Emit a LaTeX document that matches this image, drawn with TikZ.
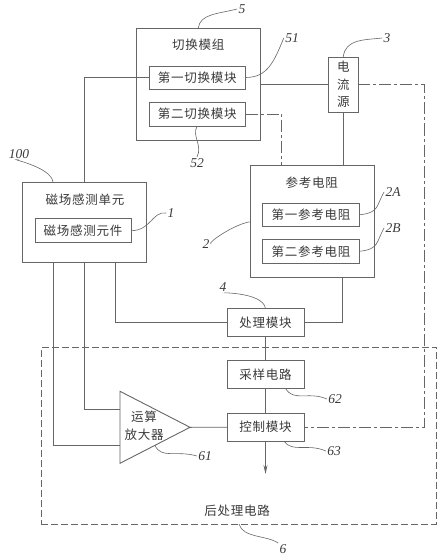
\documentclass[tikz,border=0pt]{standalone}
\usepackage{xcolor}
\usepackage{fontspec}
\setmainfont[LetterSpace=6]{Noto Sans CJK SC}
\newfontfamily\numfont{Liberation Serif}
\usetikzlibrary{shapes.geometric,arrows.meta}
\definecolor{linegray}{HTML}{666666}
\definecolor{textgray}{HTML}{3A3A3A}

\begin{document}
\begin{tikzpicture}[x=1pt,y=-1pt,
    line width=0.9pt, draw=linegray,
    block/.style={draw=linegray, inner sep=0pt, outer sep=0pt, text=textgray, font=\fontsize{12.5}{17.5}\selectfont},
    title/.style={inner sep=0pt, text=textgray, font=\fontsize{12.5}{18}\selectfont, align=center},
    numtag/.style={inner sep=1pt, text=textgray, font=\fontsize{13.5}{14}\numfont\itshape},
    wire/.style={draw=linegray},
    dotwire/.style={draw=linegray, dash pattern=on 12pt off 3pt on 3pt off 3pt},
    leader/.style={draw=linegray, line width=0.6pt}]
    \useasboundingbox (0,0) rectangle (446,559);

    % Switch group
    \node[block, minimum width=123.5pt, minimum height=112pt] (group) at (198.25,84) {};
    \node[title] (grouptitle) at (198.2,44.7) {切换模组};
    \node[block, minimum width=96.5pt, minimum height=23pt] (swa) at (197.25,77.5) {第一切换模块};
    \node[block, minimum width=96.5pt, minimum height=24pt] (swb) at (197.25,114) {第二切换模块};

    % Current source
    \node[block, align=center, minimum width=29.5pt, minimum height=55pt] (source) at (343.25,84.5) {电\\流\\源};

    % Sensing unit
    \node[block, minimum width=124pt, minimum height=80pt] (unit) at (84,222) {};
    \node[title] (unittitle) at (85,199.3) {磁场感测单元};
    \node[block, minimum width=96pt, minimum height=24pt] (sensor) at (83,230.7) {磁场感测元件};

    % Reference resistors
    \node[block, minimum width=123.3pt, minimum height=112pt] (refres) at (312.35,221.7) {};
    \node[title] (reftitle) at (311.7,182.7) {参考电阻};
    \node[block, minimum width=96.6pt, minimum height=23.7pt] (refa) at (311,214.8) {第一参考电阻};
    \node[block, minimum width=96.6pt, minimum height=24pt] (refb) at (311,251.3) {第二参考电阻};

    % Processing chain
    \node[block, minimum width=77pt, minimum height=27.3pt] (proc) at (265.5,322.3) {处理模块};
    \node[block, minimum width=77pt, minimum height=27.6pt] (sample) at (265.5,374.5) {采样电路};
    \node[block, minimum width=77pt, minimum height=27.7pt] (ctrl) at (265.5,427.2) {控制模块};

    % Amplifier
    \node[draw=linegray, isosceles triangle, isosceles triangle stretches, inner sep=0pt, outer sep=0pt,
        minimum width=72pt, minimum height=70pt, anchor=west] (amp) at (120,427.3) {};
    \node[title] (amptitle) at (144,426) {运算\\放大器};

    % Post-processing frame
    \node[draw=linegray, dash pattern=on 7pt off 3pt, minimum width=395.4pt, minimum height=176.7pt,
        inner sep=0pt, outer sep=0pt] (post) at (239,435.7) {};
    \node[title] (posttitle) at (237,511) {后处理电路};

    % Wires
    \coordinate (busturn) at (424,427.2);
    \coordinate (ctrlout) at (265.5,474);
    \draw[wire] (swa.west) -| (unit.north);
    \draw[wire] (source.west) -- (source.west -| group.east);
    \draw[wire] (source.south) -- (source.south |- refres.north);
    \draw[wire] ([xshift=31pt]unit.south) |- (proc.west);
    \draw[wire] (unit.south) |- ([yshift=18pt]amp.west);
    \draw[wire] ([xshift=-31pt]unit.south) |- ([yshift=-18pt]amp.west);
    \draw[wire] ([xshift=30.4pt]refres.south) |- (proc.east);
    \draw[wire] (proc.south) -- (sample.north);
    \draw[wire] (sample.south) -- (ctrl.north);
    \draw[wire] (amp.apex) -- (ctrl.west);
    \draw[wire, -{Stealth[length=9pt,width=4pt]}] (ctrl.south) -- (ctrlout);
    \draw[dotwire] (swb.east) -| ([xshift=-30.6pt]refres.north);
    \draw[dotwire] (source.east) -| (busturn) -- (ctrl.east);

    % Reference numerals
    \foreach \name/\x/\y/\val in {numg/242/9/5, numa/292/38/51, nums/387/38/3, numb/197/163/52,
                                  numu/19/154/100, numc/171/213/1, numr/206/244/2, numra/393/192/2A,
                                  numrb/393/228/2B, nump/223/287/4, numsa/335/399/62, numct/334/451/63,
                                  numam/205/456/61, numpo/283/549/6}
        \node[numtag] (\name) at (\x,\y) {\val};

    % Leaders
    \draw[leader] (group.north) .. controls +(2,-14) and +(-20,5) .. (numg.west);
    \draw[leader] (swa.east) .. controls +(22,0) and +(-10,24) .. (numa.west);
    \draw[leader] (source.north) .. controls +(2,-18) and +(-18,2) .. (nums.west);
    \draw[leader] (swb.south) .. controls +(-6,10) and +(6,-12) .. (numb.north);
    \draw[leader] ([xshift=-31pt]unit.north) .. controls +(-2,-16) and +(-14,-2) .. (numu.south);
    \draw[leader] (sensor.east) .. controls +(20,0) and +(-14,-2) .. (numc.west);
    \draw[leader] (refres.west) .. controls +(-16,2) and +(-4,-1) .. (numr.east);
    \draw[leader] (refa.east) .. controls +(20,-2) and +(-8,14) .. (numra.west);
    \draw[leader] (refb.east) .. controls +(20,-2) and +(-8,14) .. (numrb.west);
    \draw[leader] (proc.north) .. controls +(-2,-18) and +(-18,0) .. (nump.south east);
    \draw[leader] ([xshift=20pt]sample.south) .. controls +(8,14) and +(-18,-8) .. (numsa.west);
    \draw[leader] ([xshift=18.5pt]ctrl.south) .. controls +(8,12) and +(-18,-8) .. (numct.west);
    \draw[leader] ([yshift=-18pt,xshift=35pt]amp.west) .. controls +(6,14) and +(-20,-6) .. (numam.west);
    \draw[leader] (post.south) .. controls +(4,14) and +(-12,-8) .. (numpo.north west);
\end{tikzpicture}
\end{document}
